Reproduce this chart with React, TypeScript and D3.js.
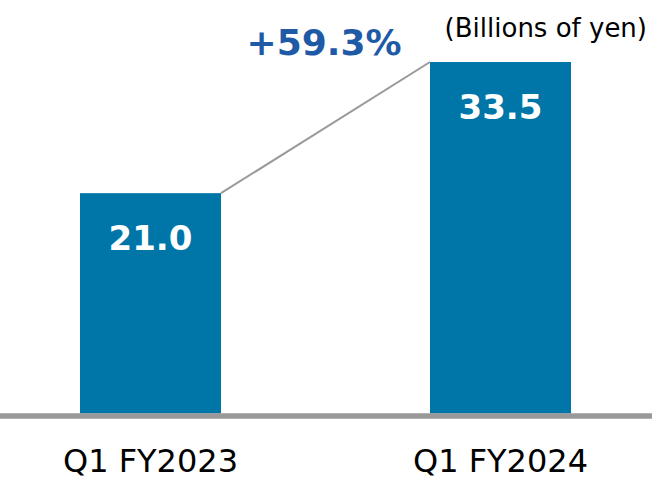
import { useEffect, useRef } from "react"
import * as d3 from "d3"

const categories = ["Q1 FY2023", "Q1 FY2024"]
const values = [21.0, 33.5]
const valueLabels = ["21.0", "33.5"]
const growthLabel = "+59.3%"
const unitLabel = "(Billions of yen)"

export default function App() {
  const ref = useRef<SVGSVGElement>(null)

  useEffect(() => {
    if (!ref.current) return
    const svg = d3.select(ref.current)
    svg.selectAll("*").remove()

    const width = 652
    const height = 484
    const baseline = 413.5
    const barWidth = 141
    const font = "'DejaVu Sans', Verdana, sans-serif"

    const x = d3.scalePoint<string>()
      .domain(categories)
      .range([150.5, 500.5])

    const y = d3.scaleLinear()
      .domain([0, 33.5])
      .range([baseline, 62])

    svg.attr("width", width).attr("height", height)

    svg.append("rect")
      .attr("width", width)
      .attr("height", height)
      .attr("fill", "#ffffff")

    // bars
    svg.selectAll("rect.bar")
      .data(values)
      .enter()
      .append("rect")
      .attr("class", "bar")
      .attr("x", (_, i) => (x(categories[i]) || 0) - barWidth / 2)
      .attr("y", d => y(d))
      .attr("width", barWidth)
      .attr("height", d => baseline - y(d))
      .attr("fill", "#0076a8")

    // connector between bar tops
    svg.append("line")
      .attr("x1", (x(categories[0]) || 0) + barWidth / 2)
      .attr("y1", y(values[0]))
      .attr("x2", (x(categories[1]) || 0) - barWidth / 2)
      .attr("y2", y(values[1]))
      .attr("stroke", "#999999")
      .attr("stroke-width", 2)

    // baseline
    svg.append("line")
      .attr("x1", 0)
      .attr("x2", width)
      .attr("y1", baseline + 2.5)
      .attr("y2", baseline + 2.5)
      .attr("stroke", "#999999")
      .attr("stroke-width", 5.5)

    // value labels
    svg.selectAll("text.value")
      .data(values)
      .enter()
      .append("text")
      .attr("class", "value")
      .attr("x", (_, i) => x(categories[i]) || 0)
      .attr("y", d => y(d) + 57)
      .attr("text-anchor", "middle")
      .attr("fill", "#ffffff")
      .style("font-family", font)
      .style("font-size", "34px")
      .style("font-weight", "bold")
      .text((_, i) => valueLabels[i])

    // category labels
    svg.selectAll("text.cat")
      .data(categories)
      .enter()
      .append("text")
      .attr("class", "cat")
      .attr("x", d => x(d) || 0)
      .attr("y", 472)
      .attr("text-anchor", "middle")
      .attr("fill", "#000000")
      .style("font-family", font)
      .style("font-size", "32px")
      .text(d => d)

    svg.append("text")
      .attr("x", 324)
      .attr("y", 55)
      .attr("text-anchor", "middle")
      .attr("fill", "#1f5aa6")
      .style("font-family", font)
      .style("font-size", "36px")
      .style("font-weight", "bold")
      .text(growthLabel)

    svg.append("text")
      .attr("x", 647)
      .attr("y", 37)
      .attr("text-anchor", "end")
      .attr("fill", "#000000")
      .style("font-family", font)
      .style("font-size", "26px")
      .text(unitLabel)
  }, [])

  return (
    <div style={{ position: "absolute", left: 0, top: 0 }}>
      <svg ref={ref} width={652} height={484} style={{ display: "block" }} />
    </div>
  )
}
